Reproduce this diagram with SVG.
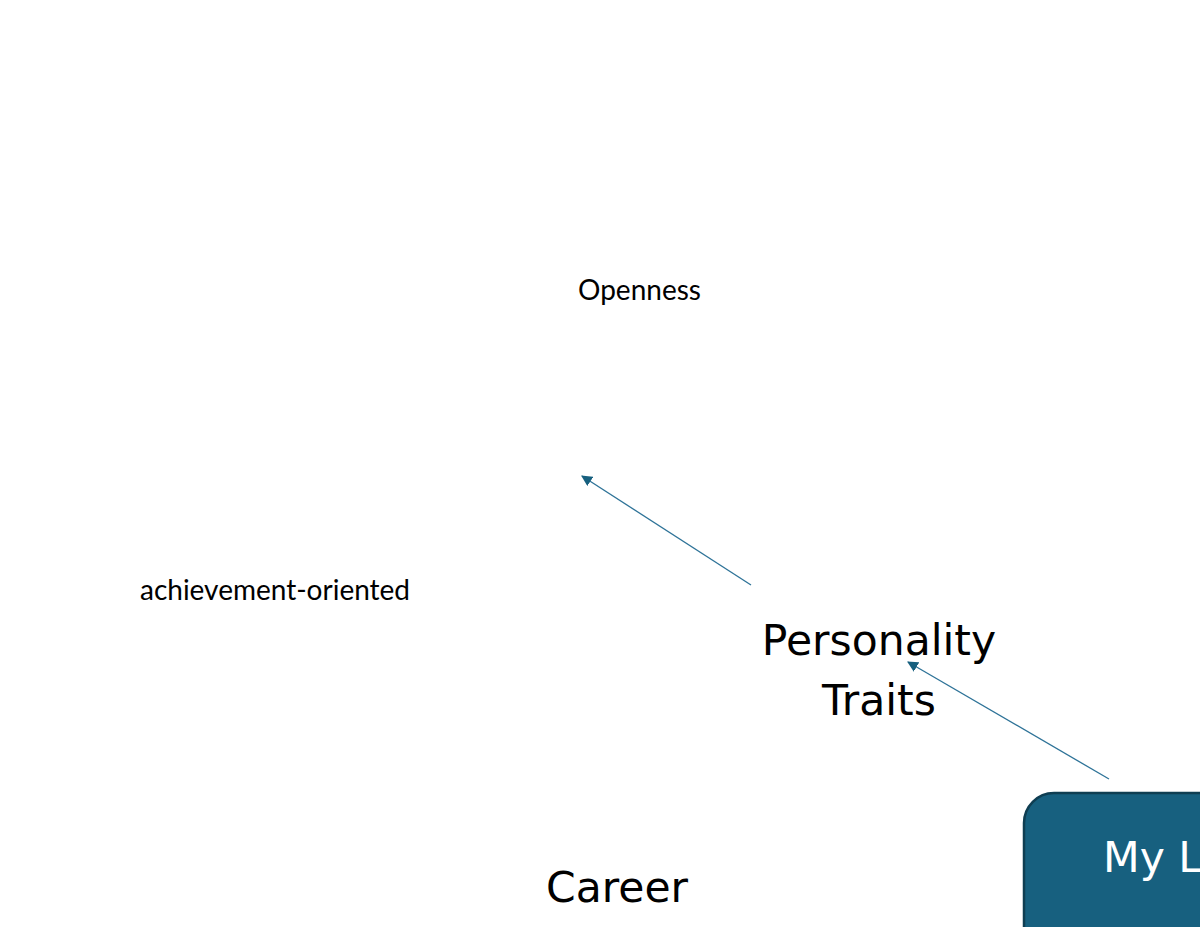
<svg xmlns="http://www.w3.org/2000/svg" width="1200" height="927" viewBox="0 0 1200 927">
<style>
.small{font-family:Lato,"Open Sans","Liberation Sans",sans-serif;font-size:28px;fill:#000}
.big{font-family:"DejaVu Sans",sans-serif;font-size:42.5px;fill:#000}
.boxtxt{font-family:"DejaVu Sans",sans-serif;font-size:42.5px;fill:#fff}
.conn{stroke:#2e7398;stroke-width:1.3;fill:none;marker-end:url(#ah)}
</style>
<defs>
<marker id="ah" viewBox="0 0 10 10" refX="9" refY="5" markerWidth="11" markerHeight="11" markerUnits="userSpaceOnUse" orient="auto">
<path d="M0,0 L10,5 L0,10 z" fill="#17607f"/>
</marker>
</defs>
<rect width="1200" height="927" fill="#fff"/>
<g id="connectors">
<line class="conn" x1="751" y1="585" x2="582" y2="476"/>
<line class="conn" x1="1109" y1="779" x2="908" y2="662"/>
</g>
<g id="node-openness"><text class="small" x="639.5" y="300" text-anchor="middle">Openness</text></g>
<g id="node-achievement"><text class="small" x="275" y="600" text-anchor="middle">achievement-oriented</text></g>
<g id="node-personality"><text class="big" x="879" y="655" text-anchor="middle">Personality</text><text class="big" x="879" y="715" text-anchor="middle">Traits</text></g>
<g id="node-career"><text class="big" x="617" y="902" text-anchor="middle">Career</text></g>
<g id="node-mylife"><rect x="1024" y="793" width="300" height="200" rx="30" fill="#17607f" stroke="#0f3e52" stroke-width="2.5"/><text class="boxtxt" x="1103" y="872">My L</text></g>
</svg>
